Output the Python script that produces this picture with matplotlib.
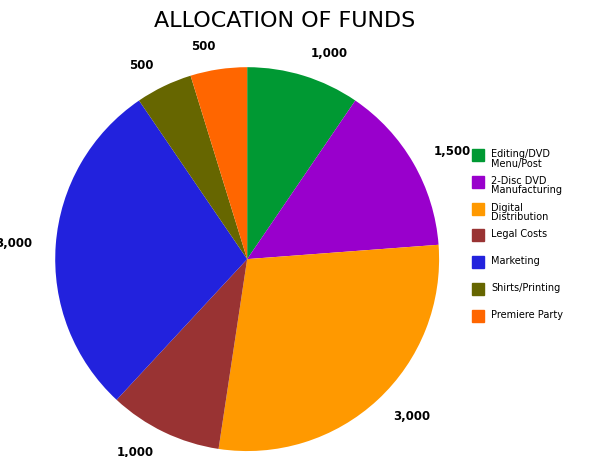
import matplotlib

matplotlib.use("Agg")
import matplotlib.pyplot as plt
from matplotlib.patches import Rectangle

categories = ["Editing/DVD\nMenu/Post", "2-Disc DVD\nManufacturing", "Digital\nDistribution",
              "Legal Costs", "Marketing", "Shirts/Printing", "Premiere Party"]
amounts = [1000, 1500, 3000, 1000, 3000, 500, 500]
colors = ["#009933", "#9900cc", "#ff9900", "#993333", "#2222dd", "#666600", "#ff6600"]

fig = plt.figure(figsize=(5.92, 4.57), dpi=100)
fig.text(0.48, 0.955, "ALLOCATION OF FUNDS", ha="center", va="center", fontsize=16)

ax = fig.add_axes([0.093, 0.013, 0.649, 0.84])
wedges, texts = ax.pie(amounts, colors=colors, startangle=90, counterclock=False,
                       labels=[f"{v:,}" for v in amounts], labeldistance=1.12,
                       textprops={"fontsize": 8.5, "fontweight": "bold", "clip_on": False})
ax.set_xlim(-1, 1)
ax.set_ylim(-1, 1)
ax.set_aspect("equal")
ax.set_axis_off()

# hand-placed legend
y0, dy = 457 - 155, 26.8
for i, (name, c) in enumerate(zip(categories, colors)):
    y = (y0 - i * dy) / 457
    fig.add_artist(Rectangle((472 / 592, y - 6 / 457), 12 / 592, 12 / 457,
                             transform=fig.transFigure, color=c))
    fig.text(491 / 592, y + 6 / 457, name, ha="left", va="top", fontsize=7,
             linespacing=0.95)

fig.savefig("out.png")
